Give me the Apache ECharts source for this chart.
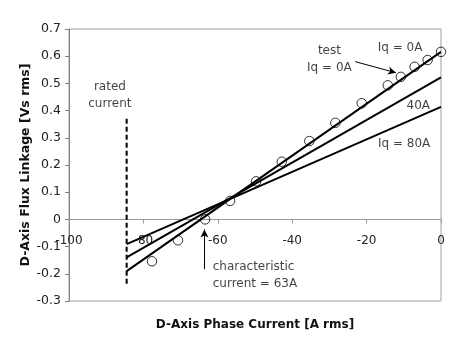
<!DOCTYPE html>
<html><head><meta charset="utf-8">
<script src="https://cdn.jsdelivr.net/npm/echarts@6/dist/echarts.min.js"></script>
<style>html,body{margin:0;padding:0;background:#fff}#c{width:474px;height:338px}</style>
</head><body><div id="c"></div>
<script>
// Test points (Iq = 0A)
const testCurrent = [-77.7, -70.7, -63.4, -56.7, -49.7, -42.8, -35.4, -28.4, -21.3, -14.3, -10.8, -7.1, -3.6, 0];
const testFlux    = [-0.154, -0.077, 0.0, 0.068, 0.14, 0.212, 0.288, 0.355, 0.427, 0.493, 0.524, 0.561, 0.586, 0.616];
// Model lines (start at rated current, end at 0)
const lineCurrent = [-84.5, 0];
const fluxIq0  = [-0.19, 0.616];
const fluxIq40 = [-0.14, 0.522];
const fluxIq80 = [-0.091, 0.414];
// Rated current marker
const ratedCurrent = -84.5;
const ratedFlux = [0.37, -0.242];
// Axis ticks
const xTicks = [-100, -80, -60, -40, -20, 0];
const yTicks = [-0.3, -0.2, -0.1, 0, 0.1, 0.2, 0.3, 0.4, 0.5, 0.6, 0.7];
// Annotation texts and anchors (data coordinates)
const noteTexts = ['rated\ncurrent', 'test\nIq = 0A', 'Iq = 0A', '40A', 'Iq = 80A'];
const noteX = [-89, -30, -11, -6.1, -9.9];
const noteY = [0.455, 0.588, 0.631, 0.417, 0.277];
const charText = 'characteristic\ncurrent = 63A';
const charPos = [-61.5, -0.207];
const arrowTest = [[-23.06, 0.580], [-12.1, 0.539]];
const arrowChar = [[-63.6, -0.183], [-63.6, -0.037]];

const FONT = 'DejaVu Sans';
const W = 474, H = 338;
const G = {left: 69, right: 33, top: 29, bottom: 37};
const plotH = H - G.top - G.bottom;
const yMin = yTicks[0], yMax = yTicks[yTicks.length - 1];
// shift the x axis up so it crosses the y axis at zero
const zeroOffset = -((0 - yMin) / (yMax - yMin)) * plotH;

const chart = echarts.init(document.getElementById('c'), null, {renderer: 'canvas'});
const pair = (xs, ys) => xs.map((x, i) => [x, ys[i]]);

const modelLine = (name, ys) => ({
  name, type: 'line', data: pair(lineCurrent, ys), symbol: 'none',
  lineStyle: {color: '#000', width: 2}, z: 3, silent: true
});

chart.setOption({
  animation: false,
  textStyle: {fontFamily: FONT},
  grid: Object.assign({show: true, borderColor: '#a0a0a0', borderWidth: 1,
    backgroundColor: '#fff', containLabel: false, outerBoundsMode: 'none'}, G),
  xAxis: {
    type: 'value', position: 'bottom', offset: zeroOffset,
    min: xTicks[0], max: xTicks[xTicks.length - 1], interval: xTicks[1] - xTicks[0],
    axisLine: {show: true, onZero: false, lineStyle: {color: '#9a9a9a', width: 1}},
    axisTick: {show: true, length: 4, lineStyle: {color: '#9a9a9a'}},
    axisLabel: {color: '#222', fontSize: 12, fontFamily: FONT, margin: 15},
    splitLine: {show: false},
    name: 'D-Axis Phase Current [A rms]', nameLocation: 'middle', nameGap: 99, nameMoveOverlap: false,
    nameTextStyle: {fontWeight: 'bold', fontSize: 12, color: '#111', fontFamily: FONT}
  },
  yAxis: {
    type: 'value', min: yMin, max: yMax, interval: 0.1,
    axisLine: {show: true, onZero: false, lineStyle: {color: '#808080', width: 1}},
    axisTick: {show: true, length: 4, lineStyle: {color: '#808080'}},
    axisLabel: {color: '#222', fontSize: 12.5, fontFamily: FONT, margin: 8,
      formatter: v => String(Math.round(v * 10) / 10)},
    splitLine: {show: false},
    name: 'D-Axis Flux Linkage [Vs rms]', nameLocation: 'middle', nameGap: 37, nameMoveOverlap: false,
    nameTextStyle: {fontWeight: 'bold', fontSize: 12.5, color: '#111', fontFamily: FONT}
  },
  series: [
    {
      name: 'rated', type: 'line', symbol: 'none', silent: true, z: 2,
      data: pair([ratedCurrent, ratedCurrent], ratedFlux),
      lineStyle: {color: '#000', width: 2, type: [5, 3]}
    },
    modelLine('Iq = 0A', fluxIq0),
    modelLine('40A', fluxIq40),
    modelLine('Iq = 80A', fluxIq80),
    {
      name: 'test Iq = 0A', type: 'scatter', data: pair(testCurrent, testFlux),
      symbol: 'circle', symbolSize: 9.5, z: 4, silent: true,
      itemStyle: {color: 'rgba(0,0,0,0)', borderColor: '#000', borderWidth: 1}
    },
    {
      name: 'notes', type: 'scatter', symbolSize: 1, silent: true, z: 5,
      itemStyle: {color: 'rgba(0,0,0,0)'},
      data: noteTexts.map((t, i) => ({value: [noteX[i], noteY[i]],
        label: {show: true, position: 'inside', formatter: t, align: 'center', verticalAlign: 'middle',
          color: '#111', fontSize: 12, lineHeight: 17, fontFamily: FONT}})).concat([
        {value: charPos, label: {show: true, position: 'right', distance: 0, formatter: charText,
          align: 'left', verticalAlign: 'middle', color: '#111', fontSize: 12, lineHeight: 17, fontFamily: FONT}}
      ]),
      markLine: {
        silent: true, symbol: ['none', 'arrow'], symbolSize: [6, 8], label: {show: false},
        lineStyle: {color: '#000', width: 1, type: 'solid'},
        data: [
          [{coord: arrowTest[0]}, {coord: arrowTest[1]}],
          [{coord: arrowChar[0]}, {coord: arrowChar[1]}]
        ]
      }
    }
  ]
});
</script>
</body></html>
